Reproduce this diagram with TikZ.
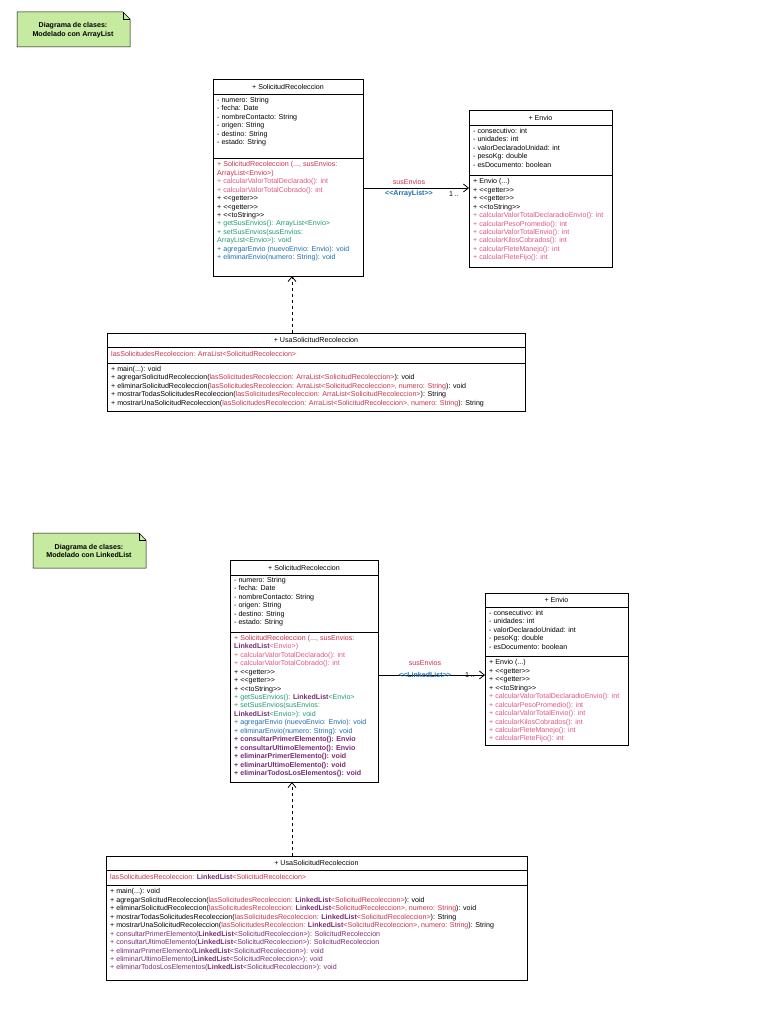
\documentclass[tikz,border=0pt]{standalone}
\usepackage{fontspec}
\setmainfont{Liberation Sans}[Ligatures=TeXOff]
\usetikzlibrary{arrows.meta}
\definecolor{cr}{HTML}{C8304A}
\definecolor{pk}{HTML}{E0557F}
\definecolor{gr}{HTML}{1E9A70}
\definecolor{bl}{HTML}{1C6DB0}
\definecolor{pu}{HTML}{7A2878}
\definecolor{notefill}{HTML}{C6EBA0}
\newcommand\ft{\fontsize{7.1}{8.45}\selectfont}
\newcommand\LL{\textbf{\color{pu}LinkedList}}
\begin{document}
\begin{tikzpicture}[x=1pt,y=-1pt,
  box/.style={draw,line width=0.8pt},
  txt/.style={anchor=north west,align=left,inner sep=0pt,font=\ft},
  ttl/.style={inner sep=0pt,font=\ft},
  assoc/.style={draw,line width=0.8pt,-{Straight Barb[length=5pt,width=8pt]}},
  dep/.style={draw,line width=0.8pt,dashed,-{Straight Barb[length=5pt,width=8pt]}},
  note/.style={draw,fill=notefill,line width=0.5pt}]
\useasboundingbox (0,0) rectangle (768,1024);
% Notes
\foreach \xa/\ya/\xb/\yb in {17/12/130/47, 33/533/146/568}{
  \draw[note] (\xa,\ya) -- (\xb-7,\ya) -- (\xb,\ya+7) -- (\xb,\yb) -- (\xa,\yb) -- cycle;
  \draw[line width=0.5pt] (\xb-7,\ya) -- (\xb-7,\ya+7) -- (\xb,\ya+7);
}
\node[ttl,align=center,font=\ft\bfseries] (n1) at (73,30) {Diagrama de clases:\\Modelado con ArrayList};
\node[ttl,align=center,font=\ft\bfseries] (n2) at (89,551) {Diagrama de clases:\\Modelado con LinkedList};

% ===== ArrayList: SolicitudRecoleccion
\draw[box] (213,79) rectangle (363,276);
\draw[line width=0.8pt] (213,94) -- (363,94) (213,158) -- (363,158);
\node[ttl] (sr1t) at (288,86.5) {+ SolicitudRecoleccion};
\node[txt] (sr1a) at (217,97) {- numero: String\\- fecha: Date\\- nombreContacto: String\\- origen: String\\- destino: String\\- estado: String};
\node[txt] (sr1m) at (217,161.5) {\color{cr}+ SolicitudRecoleccion (..., susEnvios:\\\color{cr}ArrayList<Envio>)\\\color{pk}+ calcularValorTotalDeclarado(): int\\\color{pk}+ calcularValorTotalCobrado(): int\\+ <<getter>>\\+ <<getter>>\\+ <<toString>>\\\color{gr}+ getSusEnvios(): ArrayList<Envio>\\\color{gr}+ setSusEnvios(susEnvios:\\\color{gr}ArrayList<Envio>): void\\\color{bl}+ agregarEnvio (nuevoEnvio: Envio): void\\\color{bl}+ eliminarEnvio(numero: String): void};
\coordinate (sr1r) at (363,188);
\coordinate (sr1b) at (292,276);

% Envio 1
\draw[box] (469,110) rectangle (612,267);
\draw[line width=0.8pt] (469,125) -- (612,125) (469,175) -- (612,175);
\node[ttl] (e1t) at (540.5,117.5) {+ Envio};
\node[txt] (e1a) at (473,128) {- consecutivo: int\\- unidades: int\\- valorDeclaradoUnidad: int\\- pesoKg: double\\- esDocumento: boolean};
\node[txt] (e1m) at (473,178.5) {+ Envio (...)\\+ <<getter>>\\+ <<getter>>\\+ <<toString>>\\\color{pk}+ calcularValorTotalDeclaradioEnvio(): int\\\color{pk}+ calcularPesoPromedio(): int\\\color{pk}+ calcularValorTotalEnvio(): int\\\color{pk}+ calcularKilosCobrados(): int\\\color{pk}+ calcularFleteManejo(): int\\\color{pk}+ calcularFleteFijo(): int};
\coordinate (e1l) at (469,188);
\draw[assoc] (sr1r) -- (e1l);
\node[ttl,text=cr] (l1a) at (409,182) {susEnvios};
\node[ttl,text=bl,font=\ft\bfseries] (l1b) at (409,194) {<<ArrayList>>};
\node[ttl] (l1c) at (454,194) {1 ..};

% Usa 1
\draw[box] (107,333) rectangle (525,411);
\draw[line width=0.8pt] (107,347) -- (525,347) (107,363) -- (525,363);
\node[ttl] (u1t) at (316,340) {+ UsaSolicitudRecoleccion};
\node[txt,text=cr] (u1a) at (111,351) {lasSolicitudesRecoleccion: ArraList<SolicitudRecoleccion>};
\node[txt] (u1m) at (111,366) {+ main(...): void\\+ agregarSolicitudRecoleccion({\color{cr}lasSolicitudesRecoleccion: ArraList<SolicitudRecoleccion>}): void\\+ eliminarSolicitudRecoleccion({\color{cr}lasSolicitudesRecoleccion: ArraList<SolicitudRecoleccion>, numero: String}): void\\+ mostrarTodasSolicitudesRecoleccion({\color{cr}lasSolicitudesRecoleccion: ArraList<SolicitudRecoleccion>}): String\\+ mostrarUnaSolicitudRecoleccion({\color{cr}lasSolicitudesRecoleccion: ArraList<SolicitudRecoleccion>, numero: String}): String};
\coordinate (u1top) at (292,333);
\draw[dep] (u1top) -- (sr1b);

% ===== LinkedList: SolicitudRecoleccion
\draw[box] (230,560) rectangle (378,782);
\draw[line width=0.8pt] (230,575) -- (378,575) (230,632) -- (378,632);
\node[ttl] (sr2t) at (304,567.5) {+ SolicitudRecoleccion};
\node[txt] (sr2a) at (234,577) {- numero: String\\- fecha: Date\\- nombreContacto: String\\- origen: String\\- destino: String\\- estado: String};
\node[txt] (sr2m) at (234,635) {\color{cr}+ SolicitudRecoleccion (..., susEnvios:\\\LL{\color{pk}<Envio>)}\\\color{pk}+ calcularValorTotalDeclarado(): int\\\color{pk}+ calcularValorTotalCobrado(): int\\+ <<getter>>\\+ <<getter>>\\+ <<toString>>\\{\color{gr}+ getSusEnvios(): }\LL{\color{gr}<Envio>}\\\color{gr}+ setSusEnvios(susEnvios:\\\LL{\color{gr}<Envio>): void}\\\color{bl}+ agregarEnvio (nuevoEnvio: Envio): void\\\color{bl}+ eliminarEnvio(numero: String): void\\\color{pu}\bfseries + consultarPrimerElemento(): Envio\\\color{pu}\bfseries + consultarUltimoElemento(): Envio\\\color{pu}\bfseries + eliminarPrimerElemento(): void\\\color{pu}\bfseries + eliminarUltimoElemento(): void\\\color{pu}\bfseries + eliminarTodosLosElementos(): void};
\coordinate (sr2r) at (378,675);
\coordinate (sr2b) at (292,782);

% Envio 2
\draw[box] (485,593) rectangle (628,745);
\draw[line width=0.8pt] (485,607) -- (628,607) (485,656) -- (628,656);
\node[ttl] (e2t) at (556.5,600) {+ Envio};
\node[txt] (e2a) at (489,610) {- consecutivo: int\\- unidades: int\\- valorDeclaradoUnidad: int\\- pesoKg: double\\- esDocumento: boolean};
\node[txt] (e2m) at (489,659.5) {+ Envio (...)\\+ <<getter>>\\+ <<getter>>\\+ <<toString>>\\\color{pk}+ calcularValorTotalDeclaradioEnvio(): int\\\color{pk}+ calcularPesoPromedio(): int\\\color{pk}+ calcularValorTotalEnvio(): int\\\color{pk}+ calcularKilosCobrados(): int\\\color{pk}+ calcularFleteManejo(): int\\\color{pk}+ calcularFleteFijo(): int};
\coordinate (e2l) at (485,675);
\draw[assoc] (sr2r) -- (e2l);
\node[ttl,text=cr] (l2a) at (425,663) {susEnvios};
\node[ttl,text=bl,font=\ft\bfseries] (l2b) at (425,675) {<<LinkedList>>};
\node[ttl] (l2c) at (470,675) {1 ..};

% Usa 2
\draw[box] (106,856) rectangle (527,980);
\draw[line width=0.8pt] (106,870) -- (527,870) (106,885) -- (527,885);
\node[ttl] (u2t) at (316.5,863) {+ UsaSolicitudRecoleccion};
\node[txt,text=cr] (u2a) at (110,874) {lasSolicitudesRecoleccion: \LL<SolicitudRecoleccion>};
\node[txt] (u2m) at (110,888.5) {+ main(...): void\\+ agregarSolicitudRecoleccion({\color{cr}lasSolicitudesRecoleccion: \LL<SolicitudRecoleccion>}): void\\+ eliminarSolicitudRecoleccion({\color{cr}lasSolicitudesRecoleccion: \LL<SolicitudRecoleccion>, numero: String}): void\\+ mostrarTodasSolicitudesRecoleccion({\color{cr}lasSolicitudesRecoleccion: \LL<SolicitudRecoleccion>}): String\\+ mostrarUnaSolicitudRecoleccion({\color{cr}lasSolicitudesRecoleccion: \LL<SolicitudRecoleccion>, numero: String}): String\\\color{pu}+ consultarPrimerElemento(\LL<SolicitudRecoleccion>): SolicitudRecoleccion\\\color{pu}+ consultarUltimoElemento(\LL<SolicitudRecoleccion>): SolicitudRecoleccion\\\color{pu}+ eliminarPrimerElemento(\LL<SolicitudRecoleccion>): void\\\color{pu}+ eliminarUltimoElemento(\LL<SolicitudRecoleccion>): void\\\color{pu}+ eliminarTodosLosElementos(\LL<SolicitudRecoleccion>): void};
\coordinate (u2top) at (292,856);
\draw[dep] (u2top) -- (sr2b);
\end{tikzpicture}
\end{document}
